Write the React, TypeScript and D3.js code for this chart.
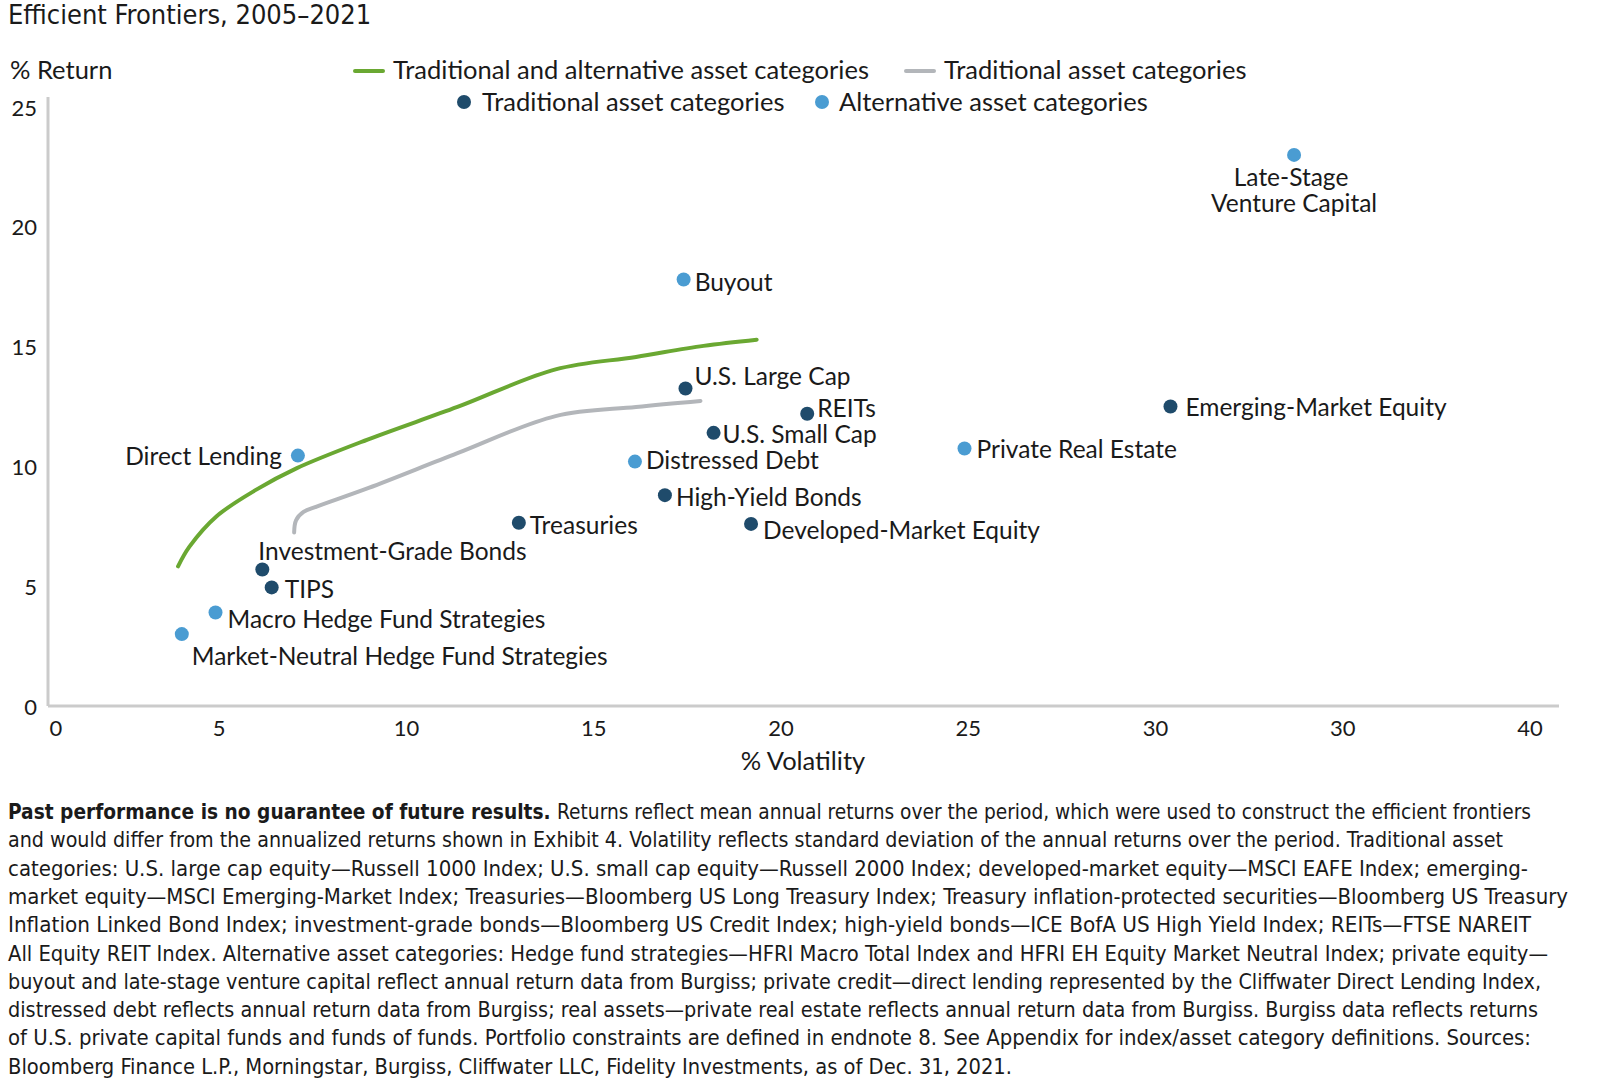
import React from "react";
import * as d3 from "d3";

// asset categories: % volatility, % return
const assetNames = [
  "Late-Stage Venture Capital",
  "Buyout",
  "U.S. Large Cap",
  "REITs",
  "U.S. Small Cap",
  "Emerging-Market Equity",
  "Private Real Estate",
  "Direct Lending",
  "Distressed Debt",
  "High-Yield Bonds",
  "Treasuries",
  "Developed-Market Equity",
  "Investment-Grade Bonds",
  "TIPS",
  "Macro Hedge Fund Strategies",
  "Market-Neutral Hedge Fund Strategies",
];
const assetVol = [33.7, 17.4, 17.45, 20.7, 18.2, 30.4, 24.9, 7.1, 16.1, 16.9, 13.0, 19.2, 6.15, 6.4, 4.9, 4.0];
const assetRet = [23.0, 17.8, 13.25, 12.2, 11.4, 12.5, 10.75, 10.45, 10.2, 8.8, 7.65, 7.6, 5.7, 4.95, 3.9, 3.0];
const assetKind = [
  "alt", "alt", "trad", "trad", "trad", "trad", "alt", "alt",
  "alt", "trad", "trad", "trad", "trad", "trad", "alt", "alt",
];

// efficient frontier, traditional + alternative
const mixedVol = [3.9, 4.2, 4.93, 5.99, 7.06, 8.96, 11.36, 13.98, 16.13, 17.93, 19.35];
const mixedRet = [5.83, 6.64, 7.92, 9.03, 9.92, 11.12, 12.48, 14.05, 14.57, 15.03, 15.29];

// efficient frontier, traditional only
const tradVol = [7.0, 7.05, 7.25, 7.6, 8.99, 11.36, 13.98, 16.13, 17.85];
const tradRet = [7.24, 7.75, 8.1, 8.32, 9.1, 10.55, 12.1, 12.48, 12.73];

const xTicks = [0, 5, 10, 15, 20, 25, 30, 35, 40];
const xTickLabels = ["0", "5", "10", "15", "20", "25", "30", "30", "40"];
const yTicks = [0, 5, 10, 15, 20, 25];

const footnoteLead = "Past performance is no guarantee of future results. ";
const footnote = [
  "Returns reflect mean annual returns over the period, which were used to construct the efficient frontiers",
  "and would differ from the annualized returns shown in Exhibit 4. Volatility reflects standard deviation of the annual returns over the period. Traditional asset",
  "categories: U.S. large cap equity\u2014Russell 1000 Index; U.S. small cap equity\u2014Russell 2000 Index; developed-market equity\u2014MSCI EAFE Index; emerging-",
  "market equity\u2014MSCI Emerging-Market Index; Treasuries\u2014Bloomberg US Long Treasury Index; Treasury inflation-protected securities\u2014Bloomberg US Treasury",
  "Inflation Linked Bond Index; investment-grade bonds\u2014Bloomberg US Credit Index; high-yield bonds\u2014ICE BofA US High Yield Index; REITs\u2014FTSE NAREIT",
  "All Equity REIT Index. Alternative asset categories: Hedge fund strategies\u2014HFRI Macro Total Index and HFRI EH Equity Market Neutral Index; private equity\u2014",
  "buyout and late-stage venture capital reflect annual return data from Burgiss; private credit\u2014direct lending represented by the Cliffwater Direct Lending Index,",
  "distressed debt reflects annual return data from Burgiss; real assets\u2014private real estate reflects annual return data from Burgiss. Burgiss data reflects returns",
  "of U.S. private capital funds and funds of funds. Portfolio constraints are defined in endnote 8. See Appendix for index/asset category definitions. Sources:",
  "Bloomberg Finance L.P., Morningstar, Burgiss, Cliffwater LLC, Fidelity Investments, as of Dec. 31, 2021.",
];
// set widths of the wrapped footnote lines
const footnoteWidths = [1523, 1495, 1520, 1560, 1523, 1540, 1533, 1530, 1523, 1004];

// label placement relative to each dot
const labelPlacement: Record<string, { dx: number; dy: number; anchor?: string }> = {
  "Buyout": { dx: 11, dy: 2 },
  "U.S. Large Cap": { dx: 9, dy: -13 },
  "REITs": { dx: 10, dy: -6 },
  "U.S. Small Cap": { dx: 9, dy: 1 },
  "Emerging-Market Equity": { dx: 15, dy: 0 },
  "Private Real Estate": { dx: 12, dy: 0 },
  "Direct Lending": { dx: -16, dy: 0, anchor: "end" },
  "Distressed Debt": { dx: 11, dy: -2 },
  "High-Yield Bonds": { dx: 11, dy: 1 },
  "Treasuries": { dx: 11, dy: 2 },
  "Developed-Market Equity": { dx: 12, dy: 6 },
  "Investment-Grade Bonds": { dx: -4, dy: -19 },
  "TIPS": { dx: 13, dy: 1 },
  "Macro Hedge Fund Strategies": { dx: 12, dy: 6 },
  "Market-Neutral Hedge Fund Strategies": { dx: 10, dy: 21 },
};

const W = 1600;
const H = 1087;
const DARK = "#1f4b6b";
const LIGHT = "#4a9cd2";
const GREEN = "#6aa832";
const GREY = "#b3b6ba";
const AXIS = "#cbcbcb";
const INK = "#1a1a1a";
const SANS = "Lato, 'Open Sans', sans-serif";
const NARROW = "'Liberation Sans Narrow', 'DejaVu Sans Condensed', sans-serif";

export default function App() {
  const x = d3.scaleLinear().domain([0, 40]).range([32, 1530]);
  const y = d3.scaleLinear().domain([0, 25]).range([706, 107]);
  const axisX = 48;

  const line = d3
    .line<[number, number]>()
    .x((d) => x(d[0]))
    .y((d) => y(d[1]))
    .curve(d3.curveCatmullRom.alpha(0.5));

  const mixed = mixedVol.map((v, i) => [v, mixedRet[i]] as [number, number]);
  const trad = tradVol.map((v, i) => [v, tradRet[i]] as [number, number]);

  const labelSize = 24.5;
  const legendSize = 25.5;
  const tickSize = 22;

  return (
    <svg
      width={W}
      height={H}
      style={{ position: "absolute", left: 0, top: 0, background: "#fff" }}
      fontFamily={SANS}
    >
      {/* title */}
      <text x={8} y={24} fontSize={27} fill={INK} fontFamily={NARROW}>
        Efficient Frontiers, 2005–2021
      </text>

      {/* y axis title */}
      <text x={10} y={69} fontSize={legendSize} fill={INK} dominantBaseline="central">
        % Return
      </text>

      {/* legend */}
      <g fontSize={legendSize} fill={INK}>
        <line x1={355} x2={383} y1={71} y2={71} stroke={GREEN} strokeWidth={4} strokeLinecap="round" />
        <text x={393} y={69} dominantBaseline="central">Traditional and alternative asset categories</text>
        <line x1={906} x2={934} y1={71} y2={71} stroke={GREY} strokeWidth={4} strokeLinecap="round" />
        <text x={944} y={69} dominantBaseline="central">Traditional asset categories</text>
        <circle cx={464} cy={102} r={7} fill={DARK} />
        <text x={482} y={101} dominantBaseline="central">Traditional asset categories</text>
        <circle cx={822} cy={102} r={7} fill={LIGHT} />
        <text x={839} y={101} dominantBaseline="central">Alternative asset categories</text>
      </g>

      {/* axes */}
      <line x1={axisX} x2={axisX} y1={97} y2={y(0)} stroke={AXIS} strokeWidth={3} />
      <line x1={axisX} x2={1559} y1={y(0)} y2={y(0)} stroke={AXIS} strokeWidth={3} />
      <g fontSize={tickSize} fill={INK}>
        {yTicks.map((t) => (
          <text key={t} x={37} y={y(t)} textAnchor="end" dominantBaseline="central">
            {t}
          </text>
        ))}
        {xTicks.map((t, i) => (
          <text
            key={t}
            x={Math.max(x(t), axisX + 8)}
            y={727}
            textAnchor="middle"
            dominantBaseline="central"
          >
            {xTickLabels[i]}
          </text>
        ))}
      </g>
      <text x={803} y={760} fontSize={legendSize} fill={INK} textAnchor="middle" dominantBaseline="central">
        % Volatility
      </text>

      {/* frontiers */}
      <path d={line(trad) || ""} fill="none" stroke={GREY} strokeWidth={4} strokeLinecap="round" />
      <path d={line(mixed) || ""} fill="none" stroke={GREEN} strokeWidth={4} strokeLinecap="round" />

      {/* asset points */}
      <g fontSize={labelSize} fill={INK}>
        {assetNames.map((name, i) => {
          const cx = x(assetVol[i]);
          const cy = y(assetRet[i]);
          const fill = assetKind[i] === "alt" ? LIGHT : DARK;
          if (name === "Late-Stage Venture Capital") {
            return (
              <g key={name}>
                <circle cx={cx} cy={cy} r={7} fill={fill} />
                <text x={cx - 3} y={cy + 22} textAnchor="middle" dominantBaseline="central">
                  Late-Stage
                </text>
                <text x={cx} y={cy + 48} textAnchor="middle" dominantBaseline="central">
                  Venture Capital
                </text>
              </g>
            );
          }
          const p = labelPlacement[name];
          return (
            <g key={name}>
              <circle cx={cx} cy={cy} r={7} fill={fill} />
              <text
                x={cx + p.dx}
                y={cy + p.dy}
                textAnchor={p.anchor || "start"}
                dominantBaseline="central"
              >
                {name}
              </text>
            </g>
          );
        })}
      </g>

      {/* footnote */}
      <g fontFamily={NARROW} fontSize={21.5} fill={INK}>
        {footnote.map((ln, i) => (
          <text
            key={i}
            x={8}
            y={819 + i * 28.3}
            textLength={footnoteWidths[i]}
            lengthAdjust="spacingAndGlyphs"
          >
            {i === 0 && <tspan fontWeight={700}>{footnoteLead}</tspan>}
            {ln}
          </text>
        ))}
      </g>
    </svg>
  );
}
